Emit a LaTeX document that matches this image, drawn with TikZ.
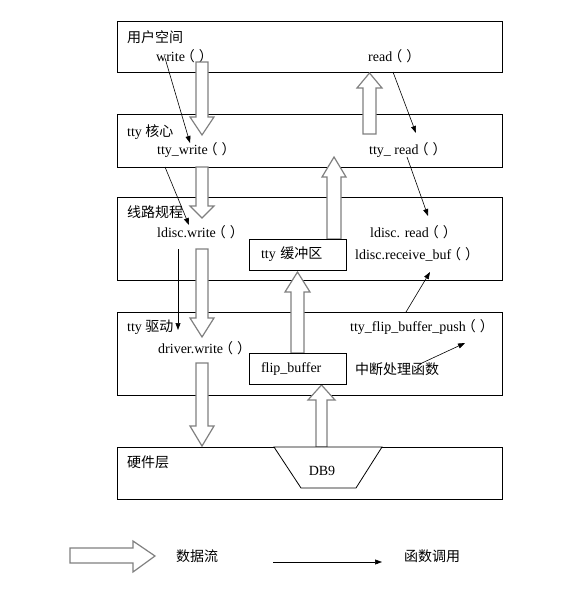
\documentclass[tikz,border=0pt]{standalone}
\usepackage{fontspec}
\setmainfont{Liberation Serif}
\newfontfamily\cjk{Noto Sans CJK SC}
\usepackage{tikz}
\usetikzlibrary{arrows.meta}
\newcommand{\fwparen}{{\cjk\kern-4pt（\kern4pt）}}

\begin{document}
\begin{tikzpicture}[x=1pt,y=-1pt,
	every node/.style={inner sep=0pt, font=\fontsize{14pt}{16pt}\selectfont},
	layer/.style={draw=black, line width=0.8pt, minimum width=385pt},
	txt/.style={anchor=base west},
	buf/.style={draw=black, fill=white, line width=0.8pt, minimum width=97pt, minimum height=31pt, text width=73pt, inner xsep=12pt, text height=10pt, text depth=3pt},
	flow/.style={draw=gray, fill=white, line width=1.2pt, line join=miter},
	call/.style={black, line width=0.6pt, -{Triangle[length=7pt,width=5pt]}}]
						\useasboundingbox (0,0) rectangle (577,589);
						\node [layer, minimum height=51pt] (user) at (309.5,46.5) {};
						\node [layer, minimum height=53pt] (core) at (309.5,140.5) {};
						\node [layer, minimum height=83pt] (ldisc) at (309.5,238.5) {};
						\node [layer, minimum height=83pt] (drv) at (309.5,353.5) {};
						\node [layer, minimum height=52pt] (hw) at (309.5,473) {};
						\node [txt] (usertitle) at (127,42) {\cjk 用户空间};
						\node [txt] (wr) at (156,61) {write\fwparen};
						\node [txt] (rd) at (368,61) {read\fwparen};
						\node [txt] (coretitle) at (127,136) {tty {\cjk 核心}};
						\node [txt] (tw) at (157,154) {tty\_write\fwparen};
						\node [txt] (tr) at (369,154) {tty\_ read\fwparen};
						\node [txt] (ldisctitle) at (127,217) {\cjk 线路规程};
						\node [txt] (lw) at (157,237) {ldisc.write\fwparen};
						\node [txt] (lr) at (370,237) {ldisc. read\fwparen};
						\node [txt] (rb) at (355,259) {ldisc.receive\_buf\fwparen};
						\node [txt] (drvtitle) at (127,331) {tty {\cjk 驱动}};
						\node [txt] (fp) at (350,331) {tty\_flip\_buffer\_push\fwparen};
						\node [txt] (dw) at (158,353) {driver.write\fwparen};
						\node [txt] (irq) at (355,374) {\cjk 中断处理函数};
						\node [txt] (hwtitle) at (127,467) {\cjk 硬件层};
						\draw [flow] (196,62) -- (196,117) -- (190,117) -- (202,135) -- (214,117) -- (208,117) -- (208,62) -- cycle;
						\draw [flow] (196,167) -- (196,206) -- (190,206) -- (202,218) -- (214,206) -- (208,206) -- (208,167) -- cycle;
						\draw [flow] (196,249) -- (196,318) -- (190,318) -- (202,337) -- (214,318) -- (208,318) -- (208,249) -- cycle;
						\draw [flow] (196,363) -- (196,426) -- (190,426) -- (202,446) -- (214,426) -- (208,426) -- (208,363) -- cycle;
						\draw [flow] (363,134) -- (363,88) -- (357,88) -- (369.5,73) -- (382,88) -- (376,88) -- (376,134) -- cycle;
						\draw [flow] (327,239) -- (327,177) -- (322,177) -- (334,157) -- (346,177) -- (341,177) -- (341,239) -- cycle;
						\draw [flow] (291,353) -- (291,292) -- (285,292) -- (297.5,272) -- (310,292) -- (304,292) -- (304,353) -- cycle;
						\draw [flow] (316,447) -- (316,400) -- (308,400) -- (321.5,385) -- (335,400) -- (327,400) -- (327,447) -- cycle;
						\node [buf] (ttybuf) at (297.5,254.5) {tty {\cjk 缓冲区}};
						\node [buf] (flipbuf) at (297.5,368.5) {flip\_buffer};
						\draw [black, fill=white, line width=0.8pt] (274,447) -- (382,447) -- (356,488) -- (301,488) -- cycle;
						\node (db9) at (322,470.5) {DB9};
						\draw [call] ([xshift=9pt,yshift=3pt]wr.base west) -- ([xshift=33pt,yshift=11pt]tw.base west);
						\draw [call] ([xshift=25pt,yshift=-11pt]rd.base west) -- ([xshift=47pt,yshift=21pt]tr.base west);
						\draw [call] ([xshift=8pt,yshift=-13pt]tw.base west) -- ([xshift=32pt,yshift=12pt]lw.base west);
						\draw [call] ([xshift=38pt,yshift=-3pt]tr.base west) -- ([xshift=58pt,yshift=21pt]lr.base west);
						\draw [call] ([xshift=21pt,yshift=-12pt]lw.base west) -- ([xshift=20pt,yshift=23pt]dw.base west);
						\draw [call] ([xshift=56pt,yshift=19pt]fp.base west) -- ([xshift=75pt,yshift=-13pt]rb.base west);
						\draw [call] ([xshift=67pt,yshift=11pt]irq.base west) -- ([xshift=110pt,yshift=31pt]irq.base west);
						\draw [flow] (70,548) -- (133,548) -- (133,541) -- (155,556) -- (133,572) -- (133,563) -- (70,563) -- cycle;
						\node [txt] (flowkey) at (176,561) {\cjk 数据流};
						\node [txt] (callkey) at (404,561) {\cjk 函数调用};
						\coordinate (keystart) at (273,562);
						\draw [call] (keystart) -- ([xshift=-22pt,yshift=-1pt]callkey.base west);
\end{tikzpicture}
\end{document}
